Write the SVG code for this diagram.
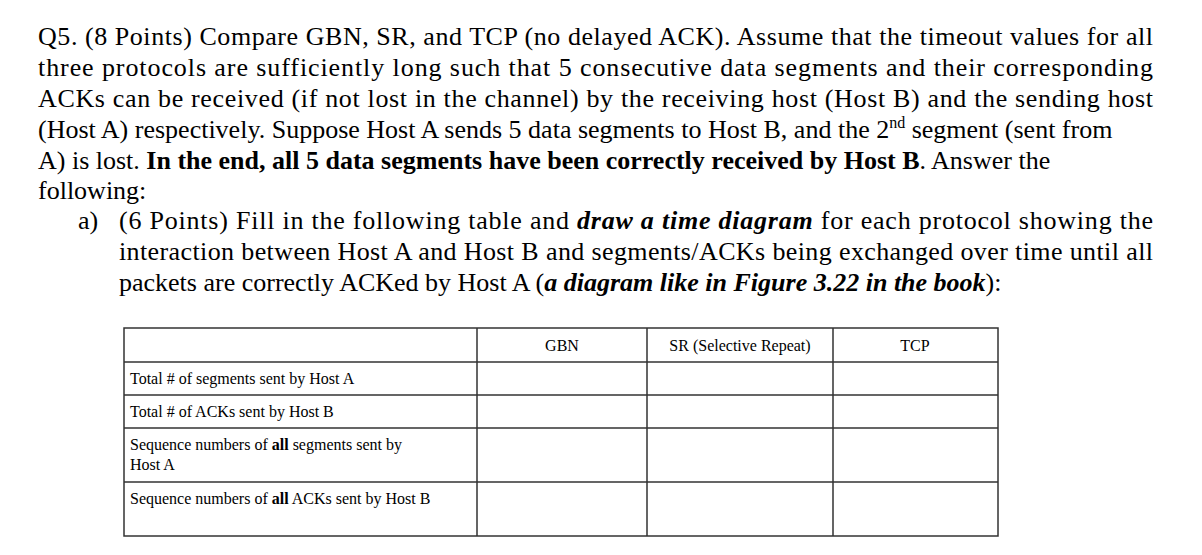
<svg xmlns="http://www.w3.org/2000/svg" width="1202" height="555" viewBox="0 0 1202 555">
<style>
.t{font-family:"Liberation Serif",serif;font-size:26px;fill:#000}
.s{font-family:"Liberation Serif",serif;font-size:16px;fill:#000}
.b{font-weight:bold}
.bi{font-weight:bold;font-style:italic}
.g{fill:none;stroke:#333;stroke-width:1.5}
</style>
<rect width="1202" height="555" fill="#fff"/>
<text class="t" x="38" y="45" textLength="1115" lengthAdjust="spacing">Q5. (8 Points) Compare GBN, SR, and TCP (no delayed ACK). Assume that the timeout values for all</text>
<text class="t" x="38" y="76" textLength="1115" lengthAdjust="spacing">three protocols are sufficiently long such that 5 consecutive data segments and their corresponding</text>
<text class="t" x="38" y="107" textLength="1115" lengthAdjust="spacing">ACKs can be received (if not lost in the channel) by the receiving host (Host B) and the sending host</text>
<text class="t" x="38" y="138">(Host A) respectively. Suppose Host A sends 5 data segments to Host B, and the 2<tspan font-size="16" dy="-10">nd</tspan><tspan dy="10"> segment (sent from</tspan></text>
<text class="t" x="38" y="169">A) is lost. <tspan class="b">In the end, all 5 data segments have been correctly received by Host B</tspan>. Answer the</text>
<text class="t" x="38" y="199">following:</text>
<text class="t" x="78" y="229">a)</text>
<text class="t" x="119" y="229" textLength="1034" lengthAdjust="spacing">(6 Points) Fill in the following table and <tspan class="bi">draw a time diagram</tspan> for each protocol showing the</text>
<text class="t" x="119" y="260" textLength="1034" lengthAdjust="spacing">interaction between Host A and Host B and segments/ACKs being exchanged over time until all</text>
<text class="t" x="119" y="291">packets are correctly ACKed by Host A (<tspan class="bi">a diagram like in Figure 3.22 in the book</tspan>):</text>
<g id="table">
<rect class="g" x="124" y="328" width="874" height="208"/>
<path class="g" d="M477 328V536M647 328V536M833 328V536M124 362H998M124 395H998M124 428H998M124 482H998"/>
<text class="s" x="562" y="351" text-anchor="middle">GBN</text>
<text class="s" x="740" y="351" text-anchor="middle">SR (Selective Repeat)</text>
<text class="s" x="915" y="351" text-anchor="middle">TCP</text>
<text class="s" x="130" y="384">Total # of segments sent by Host A</text>
<text class="s" x="130" y="417">Total # of ACKs sent by Host B</text>
<text class="s" x="130" y="450">Sequence numbers of <tspan class="b">all</tspan> segments sent by</text>
<text class="s" x="130" y="470">Host A</text>
<text class="s" x="130" y="504">Sequence numbers of <tspan class="b">all</tspan> ACKs sent by Host B</text>
</g>
</svg>
